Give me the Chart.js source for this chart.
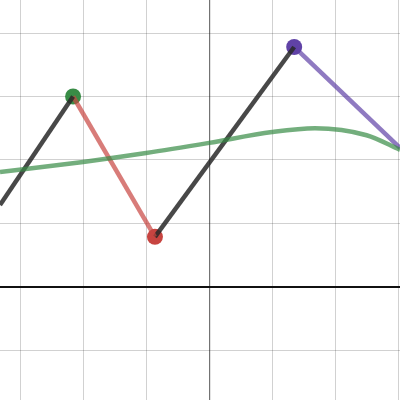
<!DOCTYPE html>
<html><head><script src="https://cdn.jsdelivr.net/npm/chart.js@4"></script>
<style>html,body{margin:0;padding:0;background:#fff}#w{width:400px;height:400px}</style></head>
<body><div id="w"><canvas id="c"></canvas></div>
<script>
const xRange=[-3.32,3.03];
const yRange=[-1.78,4.52];
const xTicks=[-3,-2,-1,0,1,2,3];
const yTicks=[-1,0,1,2,3,4];
const blackX1=[-3.32,-2.16], blackY1=[1.29,3.0];
const redX=[-2.16,-0.86], redY=[3.0,0.79];
const blackX2=[-0.86,1.35], blackY2=[0.79,3.78];
const purpleX=[1.35,3.03], purpleY=[3.78,2.19];
const curveX=[-3.32,-2,-1,0,1,1.68,2.5,3.03];
const curveY=[1.81,1.97,2.11,2.27,2.44,2.5,2.39,2.16];
const dotX=[-2.16,-0.86,1.35], dotY=[3.0,0.79,3.78], dotC=['#388c46','#c74440','#6042a6'];
const pts=(xs,ys)=>xs.map((x,i)=>({x,y:ys[i]}));
const line=(xs,ys,c,extra)=>Object.assign({data:pts(xs,ys),showLine:true,borderColor:c,borderWidth:4.5,pointRadius:0,fill:false},extra||{});
const mkGrid=(axisCol,axisW)=>({color:c=>c.tick&&c.tick.value===0?axisCol:'rgba(0,0,0,0.18)',lineWidth:c=>c.tick&&c.tick.value===0?axisW:1,drawTicks:false});
new Chart(document.getElementById('c'),{type:'scatter',data:{datasets:[
 line(curveX,curveY,'rgba(56,140,70,0.7)',{cubicInterpolationMode:'monotone'}),
 line(blackX1,blackY1,'rgba(40,40,40,0.85)'),
 line(redX,redY,'rgba(199,68,64,0.7)'),
 line(blackX2,blackY2,'rgba(40,40,40,0.85)'),
 line(purpleX,purpleY,'rgba(96,66,166,0.7)'),
 {data:pts(dotX,dotY),pointRadius:8,pointBackgroundColor:dotC,pointBorderWidth:0,showLine:false}
]},options:{responsive:true,maintainAspectRatio:false,animation:false,layout:{padding:0,autoPadding:false},
 plugins:{legend:{display:false},tooltip:{enabled:false}},
 scales:{
  x:{type:'linear',min:xRange[0],max:xRange[1],grid:mkGrid('rgba(0,0,0,0.55)',1.2),border:{display:false},ticks:{display:false,padding:0},afterBuildTicks:a=>{a.ticks=xTicks.map(v=>({value:v}))}},
  y:{type:'linear',min:yRange[0],max:yRange[1],grid:mkGrid('#111',2),border:{display:false},ticks:{display:false,padding:0},afterBuildTicks:a=>{a.ticks=yTicks.map(v=>({value:v}))}}
 }}});
</script></body></html>
